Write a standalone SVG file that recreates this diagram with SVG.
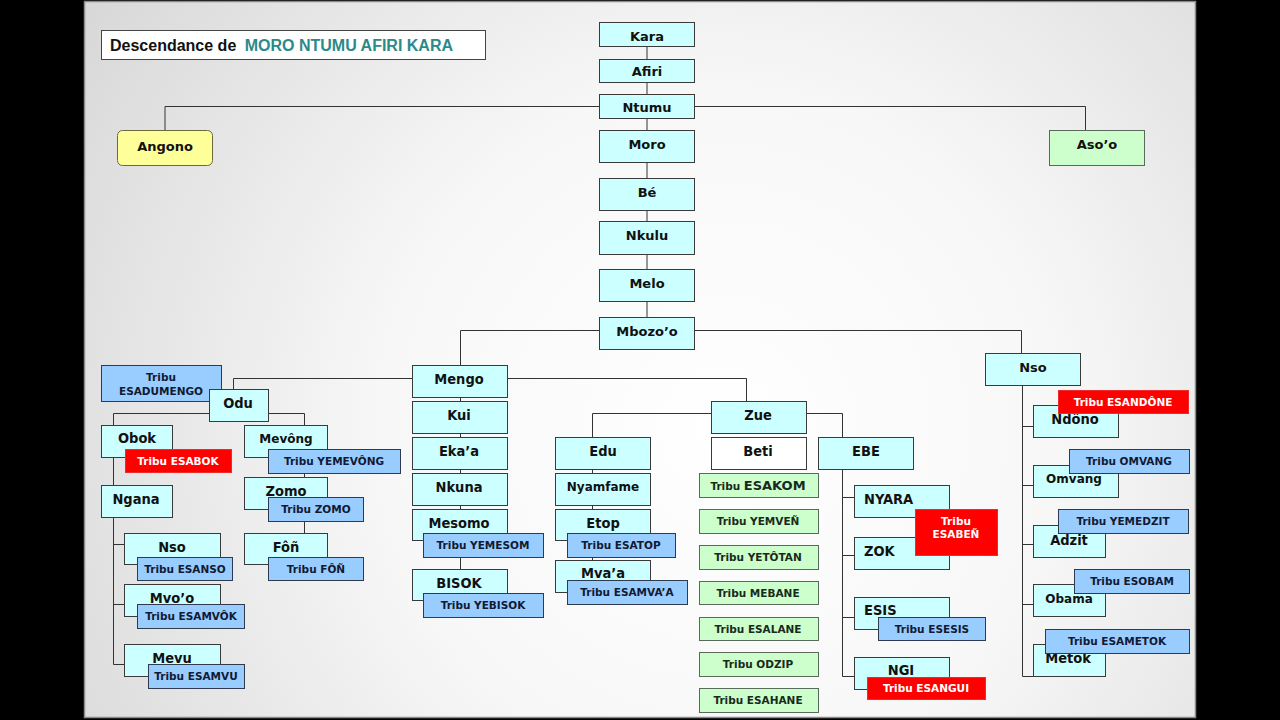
<svg xmlns="http://www.w3.org/2000/svg" width="1280" height="720" viewBox="0 0 1280 720">
<defs>
<radialGradient id="bg" cx="720" cy="430" r="760" gradientUnits="userSpaceOnUse">
<stop offset="0" stop-color="#ffffff"/>
<stop offset="0.45" stop-color="#f7f7f7"/>
<stop offset="1" stop-color="#d8d8d8"/>
</radialGradient>
<style>
.n{fill:#ccffff;stroke:#3a3a3a;stroke-width:1}
.w{fill:#ffffff;stroke:#3a3a3a;stroke-width:1}
.b{fill:#99ccff;stroke:#2e3a4e;stroke-width:1}
.r{fill:#ff0000;stroke:#ee2a2a;stroke-width:1}
.g{fill:#ccffcc;stroke:#5a6a5a;stroke-width:1}
.y{fill:#ffff99;stroke:#6a6a3a;stroke-width:1}
.c{fill:none;stroke:#333;stroke-width:1}
text{font-family:"DejaVu Sans","Liberation Sans",sans-serif;font-weight:bold;text-anchor:middle;fill:#111}
.s13{font-size:13px}
.s14{font-size:14.5px;font-stretch:condensed}
.s12{font-size:12px}
.tb{font-size:10.5px;fill:#111a33}
.tw{font-size:10.5px;fill:#ffffff}
.tg{font-size:10.5px;fill:#1a2a1a}
.st{text-anchor:start}
</style>
</defs>
<rect x="0" y="0" width="1280" height="720" fill="#000"/>
<rect x="84.5" y="1.5" width="1111" height="716" fill="url(#bg)" stroke="#8a8a8a" stroke-width="1.5"/>

<g id="title">
<rect x="101.5" y="30.5" width="384" height="29" fill="#fff" stroke="#444"/>
<text x="110" y="51" style="font-family:'Liberation Sans',Arial,sans-serif;font-size:16px;text-anchor:start">Descendance de <tspan dx="4" fill="#2a8a8a">MORO NTUMU AFIRI KARA</tspan></text>
</g>

<g id="connectors">
<path class="c" d="M647,46V59M647,82V94M647,118V130M647,162V178M647,210V221M647,254V269M647,301V317"/>
<path class="c" d="M165,130V106.5H1085.5V130"/>
<path class="c" d="M460.5,365V330.5H1021.5V353"/>
<path class="c" d="M233.5,389V378.5H746.5V401"/>
<path class="c" d="M460.5,397V569"/>
<path class="c" d="M592.5,437V413.5H842.5V437"/>
<path class="c" d="M592.5,469V561"/>
<path class="c" d="M842.5,469V676.5H854M842.5,497.5H854M842.5,555.5H854M842.5,617.5H854"/>
<path class="c" d="M113.5,664.5V413.5H304.5V533M113.5,544.5H124M113.5,604.5H124M113.5,664.5H124"/>
<path class="c" d="M1022.5,385V676.5H1033M1022.5,426.5H1033M1022.5,485.5H1033M1022.5,544.5H1033M1022.5,604.5H1033"/>
</g>

<g id="kara"><rect class="n" x="599.5" y="22.5" width="95" height="24"/><text class="s13" x="647" y="41">Kara</text></g>
<g id="afiri"><rect class="n" x="599.5" y="59.5" width="95" height="23"/><text class="s13" x="647" y="76">Afiri</text></g>
<g id="ntumu"><rect class="n" x="599.5" y="94.5" width="95" height="24"/><text class="s13" x="647" y="112">Ntumu</text></g>
<g id="angono"><rect class="y" x="117.5" y="130.5" width="95" height="35" rx="5"/><text class="s13" x="165" y="151">Angono</text></g>
<g id="aso-o"><rect class="g" x="1049.5" y="130.5" width="95" height="35"/><text class="s13" x="1097" y="149">Aso’o</text></g>
<g id="moro"><rect class="n" x="599.5" y="130.5" width="95" height="32"/><text class="s13" x="647" y="149">Moro</text></g>
<g id="be"><rect class="n" x="599.5" y="178.5" width="95" height="32"/><text class="s13" x="647" y="197">Bé</text></g>
<g id="nkulu"><rect class="n" x="599.5" y="221.5" width="95" height="33"/><text class="s13" x="647" y="240">Nkulu</text></g>
<g id="melo"><rect class="n" x="599.5" y="269.5" width="95" height="32"/><text class="s13" x="647" y="288">Melo</text></g>
<g id="mbozo-o"><rect class="n" x="599.5" y="317.5" width="95" height="32"/><text class="s13" x="647" y="336">Mbozo’o</text></g>

<g id="mengo"><rect class="n" x="412.5" y="365.5" width="95" height="32"/><text class="s14" x="459" y="384">Mengo</text></g>
<g id="kui"><rect class="n" x="412.5" y="401.5" width="95" height="32"/><text class="s14" x="459" y="420">Kui</text></g>
<g id="eka-a"><rect class="n" x="412.5" y="437.5" width="95" height="32"/><text class="s14" x="459" y="456">Eka’a</text></g>
<g id="nkuna"><rect class="n" x="412.5" y="473.5" width="95" height="32"/><text class="s14" x="459" y="492">Nkuna</text></g>
<g id="mesomo"><rect class="n" x="412.5" y="509.5" width="95" height="31"/><text class="s14" x="459" y="528">Mesomo</text></g>
<g id="tribu-yemesom"><rect class="b" x="423.5" y="533.5" width="120" height="24"/><text class="tb" x="483" y="549">Tribu YEMESOM</text></g>
<g id="bisok"><rect class="n" x="412.5" y="569.5" width="95" height="31"/><text class="s14" x="459" y="588">BISOK</text></g>
<g id="tribu-yebisok"><rect class="b" x="423.5" y="593.5" width="120" height="24"/><text class="tb" x="483" y="609">Tribu YEBISOK</text></g>

<g id="edu"><rect class="n" x="555.5" y="437.5" width="95" height="32"/><text class="s14" x="603" y="456">Edu</text></g>
<g id="nyamfame"><rect class="n" x="555.5" y="473.5" width="95" height="32"/><text class="s12" x="603" y="491">Nyamfame</text></g>
<g id="etop"><rect class="n" x="555.5" y="509.5" width="95" height="31"/><text class="s14" x="603" y="528">Etop</text></g>
<g id="tribu-esatop"><rect class="b" x="567.5" y="533.5" width="108" height="24"/><text class="tb" x="621" y="549">Tribu ESATOP</text></g>
<g id="mva-a"><rect class="n" x="555.5" y="560.5" width="95" height="32"/><text class="s14" x="603" y="578">Mva’a</text></g>
<g id="tribu-esamva-a"><rect class="b" x="567.5" y="580.5" width="120" height="24"/><text class="tb" x="627" y="596">Tribu ESAMVA’A</text></g>

<g id="zue"><rect class="n" x="711.5" y="401.5" width="95" height="32"/><text class="s14" x="758" y="420">Zue</text></g>
<g id="beti"><rect class="w" x="711.5" y="437.5" width="95" height="32"/><text class="s14" x="758" y="456">Beti</text></g>
<g id="tribu-esakom"><rect class="g" x="699.5" y="473.5" width="119" height="24"/><text class="tg" x="758" y="490">Tribu <tspan style="font-size:13px">ESAKOM</tspan></text></g>
<g id="tribu-yemven"><rect class="g" x="699.5" y="509.5" width="119" height="24"/><text class="tg" x="758" y="525">Tribu YEMVEÑ</text></g>
<g id="tribu-yetotan"><rect class="g" x="699.5" y="545.5" width="119" height="24"/><text class="tg" x="758" y="561">Tribu YETÔTAN</text></g>
<g id="tribu-mebane"><rect class="g" x="699.5" y="581.5" width="119" height="23"/><text class="tg" x="758" y="597">Tribu MEBANE</text></g>
<g id="tribu-esalane"><rect class="g" x="699.5" y="617.5" width="119" height="23"/><text class="tg" x="758" y="633">Tribu ESALANE</text></g>
<g id="tribu-odzip"><rect class="g" x="699.5" y="652.5" width="119" height="24"/><text class="tg" x="758" y="668">Tribu ODZIP</text></g>
<g id="tribu-esahane"><rect class="g" x="699.5" y="688.5" width="119" height="24"/><text class="tg" x="758" y="704">Tribu ESAHANE</text></g>

<g id="ebe"><rect class="n" x="818.5" y="437.5" width="95" height="32"/><text class="s14" x="866" y="456">EBE</text></g>
<g id="nyara"><rect class="n" x="854.5" y="485.5" width="95" height="32"/><text class="s14 st" x="864" y="504">NYARA</text></g>
<g id="zok"><rect class="n" x="854.5" y="537.5" width="95" height="32"/><text class="s14 st" x="864" y="556">ZOK</text></g>
<g id="tribu-esaben"><rect class="r" x="915.5" y="509.5" width="82" height="46"/><text class="tw" x="956" y="525">Tribu</text><text class="tw" x="956" y="538">ESABEÑ</text></g>
<g id="esis"><rect class="n" x="854.5" y="597.5" width="95" height="32"/><text class="s14 st" x="864" y="615">ESIS</text></g>
<g id="tribu-esesis"><rect class="b" x="878.5" y="617.5" width="107" height="23"/><text class="tb" x="932" y="633">Tribu ESESIS</text></g>
<g id="ngi"><rect class="n" x="854.5" y="657.5" width="95" height="32"/><text class="s14" x="901" y="675">NGI</text></g>
<g id="tribu-esangui"><rect class="r" x="867.5" y="677.5" width="118" height="22"/><text class="tw" x="926" y="692">Tribu ESANGUI</text></g>

<g id="nso-right"><rect class="n" x="985.5" y="353.5" width="95" height="32"/><text class="s13" x="1033" y="372">Nso</text></g>
<g id="ndono"><rect class="n" x="1033.5" y="405.5" width="85" height="32"/><text class="s14" x="1075" y="424">Ndôno</text></g>
<g id="tribu-esandone"><rect class="r" x="1058.5" y="390.5" width="130" height="23"/><text class="tw" x="1123" y="406">Tribu ESANDÔNE</text></g>
<g id="omvang"><rect class="n" x="1033.5" y="465.5" width="85" height="32"/><text class="s12" x="1074" y="483">Omvang</text></g>
<g id="tribu-omvang"><rect class="b" x="1069.5" y="449.5" width="120" height="24"/><text class="tb" x="1129" y="465">Tribu OMVANG</text></g>
<g id="adzit"><rect class="n" x="1033.5" y="525.5" width="72" height="32"/><text class="s14" x="1069" y="545">Adzit</text></g>
<g id="tribu-yemedzit"><rect class="b" x="1058.5" y="509.5" width="130" height="24"/><text class="tb" x="1123" y="525">Tribu YEMEDZIT</text></g>
<g id="obama"><rect class="n" x="1033.5" y="584.5" width="72" height="32"/><text class="s12" x="1069" y="603">Obama</text></g>
<g id="tribu-esobam"><rect class="b" x="1074.5" y="569.5" width="115" height="24"/><text class="tb" x="1132" y="585">Tribu ESOBAM</text></g>
<g id="metok"><rect class="n" x="1033.5" y="644.5" width="72" height="32"/><text class="s14" x="1068" y="663">Metok</text></g>
<g id="tribu-esametok"><rect class="b" x="1045.5" y="629.5" width="144" height="24"/><text class="tb" x="1117" y="645">Tribu ESAMETOK</text></g>

<g id="tribu-esadumengo"><rect class="b" x="101.5" y="365.5" width="120" height="36"/><text class="tb" x="161" y="381">Tribu</text><text class="tb" x="161" y="395">ESADUMENGO</text></g>
<g id="odu"><rect class="n" x="209.5" y="389.5" width="59" height="32"/><text class="s14" x="238" y="408">Odu</text></g>
<g id="obok"><rect class="n" x="101.5" y="425.5" width="71" height="32"/><text class="s14" x="137" y="443">Obok</text></g>
<g id="tribu-esabok"><rect class="r" x="125.5" y="449.5" width="106" height="23"/><text class="tw" x="178" y="465">Tribu ESABOK</text></g>
<g id="ngana"><rect class="n" x="101.5" y="485.5" width="71" height="32"/><text class="s14" x="136" y="504">Ngana</text></g>
<g id="nso-left"><rect class="n" x="124.5" y="533.5" width="96" height="31"/><text class="s14" x="172" y="552">Nso</text></g>
<g id="tribu-esanso"><rect class="b" x="137.5" y="557.5" width="95" height="23"/><text class="tb" x="185" y="573">Tribu ESANSO</text></g>
<g id="mvo-o"><rect class="n" x="124.5" y="584.5" width="96" height="32"/><text class="s14" x="172" y="603">Mvo’o</text></g>
<g id="tribu-esamvok"><rect class="b" x="137.5" y="604.5" width="107" height="24"/><text class="tb" x="191" y="620">Tribu ESAMVÔK</text></g>
<g id="mevu"><rect class="n" x="124.5" y="644.5" width="96" height="32"/><text class="s14" x="172" y="663">Mevu</text></g>
<g id="tribu-esamvu"><rect class="b" x="148.5" y="664.5" width="96" height="24"/><text class="tb" x="196" y="680">Tribu ESAMVU</text></g>
<g id="mevong"><rect class="n" x="244.5" y="425.5" width="83" height="32"/><text class="s12" x="286" y="443">Mevông</text></g>
<g id="tribu-yemevong"><rect class="b" x="268.5" y="449.5" width="132" height="24"/><text class="tb" x="334" y="465">Tribu YEMEVÔNG</text></g>
<g id="zomo"><rect class="n" x="244.5" y="477.5" width="83" height="32"/><text class="s14" x="286" y="496">Zomo</text></g>
<g id="tribu-zomo"><rect class="b" x="268.5" y="497.5" width="95" height="24"/><text class="tb" x="316" y="513">Tribu ZOMO</text></g>
<g id="fon"><rect class="n" x="244.5" y="533.5" width="83" height="31"/><text class="s14" x="286" y="552">Fôñ</text></g>
<g id="tribu-fon"><rect class="b" x="268.5" y="557.5" width="95" height="23"/><text class="tb" x="316" y="573">Tribu FÔÑ</text></g>
</svg>
